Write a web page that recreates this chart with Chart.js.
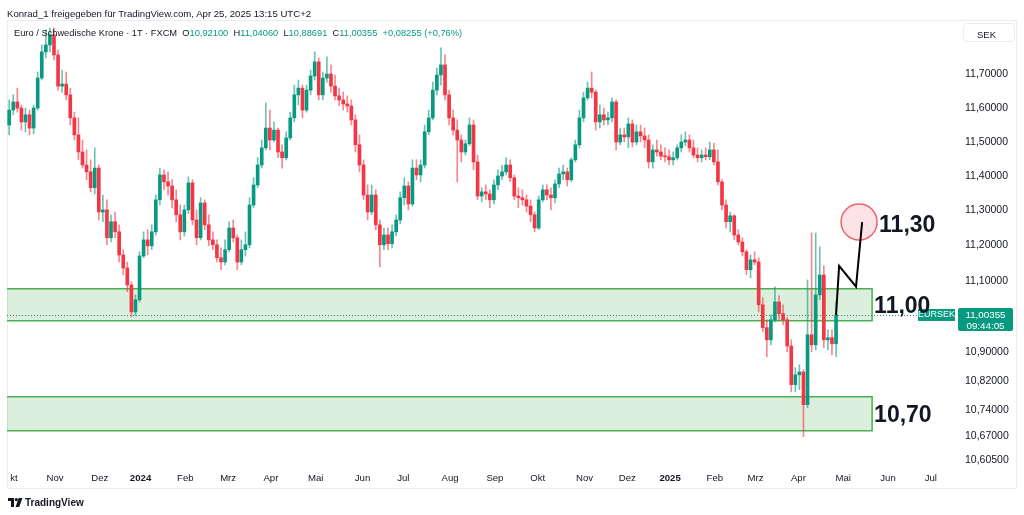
<!DOCTYPE html>
<html><head><meta charset="utf-8">
<script src="https://cdn.jsdelivr.net/npm/chart.js@4.4.1/dist/chart.umd.min.js"></script>
<style>
html,body{margin:0;padding:0;background:#fff;width:1024px;height:515px;overflow:hidden;font-family:"Liberation Sans",Arial,sans-serif;}
canvas{position:absolute;left:0;top:0;}
.t{position:absolute;white-space:nowrap;color:#131722;line-height:1;}
.g{color:#089981;}
#frame{position:absolute;left:7px;top:20px;width:1010px;height:469px;border:1px solid #e9ecf2;box-sizing:border-box;}
#sek{position:absolute;left:963px;top:23px;width:52px;height:19px;border:1px solid #e9ecf2;border-radius:4px;box-sizing:border-box;font-size:9.5px;color:#131722;padding:5px 0 0 13px;}
</style></head><body>
<div id="frame"></div>
<canvas id="c" width="1024" height="515"></canvas>
<div class="t" style="left:7px;top:9px;font-size:9.6px;">Konrad_1 freigegeben für TradingView.com, Apr 25, 2025 13:15 UTC+2</div>
<div class="t" style="left:14px;top:29px;font-size:9.3px;">Euro / Schwedische Krone · 1T · FXCM&nbsp;&nbsp;O<span class="g">10,92100</span>&nbsp;&nbsp;H<span class="g">11,04060</span>&nbsp;&nbsp;L<span class="g">10,88691</span>&nbsp;&nbsp;C<span class="g">11,00355</span>&nbsp;&nbsp;<span class="g">+0,08255 (+0,76%)</span></div>
<div id="sek">SEK</div>
<script>
// ---- data (2-day candles, EUR/SEK) ----
const opens = [11.549,11.593,11.617,11.599,11.558,11.579,11.540,11.599,11.688,11.766,11.787,11.817,11.757,11.664,11.670,11.638,11.570,11.520,11.470,11.432,
11.412,11.366,11.423,11.296,11.302,11.222,11.268,11.239,11.173,11.136,11.088,11.012,11.046,11.170,11.216,11.199,11.239,11.331,11.403,11.383,
11.371,11.331,11.288,11.239,11.302,11.380,11.273,11.222,11.322,11.259,11.216,11.202,11.165,11.153,11.188,11.250,11.222,11.153,11.188,11.202,
11.316,11.374,11.432,11.482,11.540,11.505,11.534,11.470,11.453,11.511,11.570,11.638,11.658,11.593,11.652,11.694,11.736,11.638,11.688,11.700,
11.664,11.635,11.623,11.611,11.605,11.564,11.491,11.432,11.345,11.296,11.345,11.259,11.202,11.230,11.205,11.239,11.273,11.337,11.371,11.319,
11.423,11.403,11.432,11.529,11.570,11.652,11.697,11.727,11.638,11.570,11.534,11.505,11.470,11.494,11.549,11.441,11.342,11.354,11.348,11.331,
11.374,11.400,11.412,11.432,11.395,11.342,11.337,11.331,11.313,11.288,11.250,11.331,11.360,11.345,11.337,11.377,11.406,11.412,11.389,11.447,
11.491,11.570,11.629,11.658,11.646,11.558,11.579,11.564,11.570,11.617,11.499,11.520,11.514,11.552,11.499,11.529,11.517,11.505,11.441,11.476,
11.470,11.458,11.456,11.447,11.453,11.482,11.499,11.505,11.482,11.461,11.453,11.461,11.456,11.476,11.441,11.383,11.316,11.268,11.285,11.230,
11.210,11.182,11.131,11.159,11.153,11.032,10.968,10.934,10.990,11.040,11.007,10.990,10.917,10.810,10.837,10.845,10.755,10.948,10.920,11.060,
11.116,10.934,10.940,10.923];
const highs = [11.623,11.638,11.658,11.608,11.599,11.593,11.608,11.706,11.787,11.832,11.838,11.838,11.772,11.712,11.706,11.658,11.587,11.570,11.505,11.476,
11.447,11.482,11.432,11.345,11.331,11.288,11.296,11.259,11.188,11.153,11.097,11.060,11.182,11.239,11.245,11.259,11.345,11.423,11.418,11.412,
11.389,11.360,11.316,11.316,11.397,11.389,11.302,11.337,11.331,11.288,11.239,11.216,11.193,11.216,11.268,11.273,11.230,11.216,11.239,11.337,
11.395,11.453,11.505,11.614,11.593,11.558,11.540,11.491,11.529,11.587,11.667,11.682,11.667,11.667,11.712,11.766,11.748,11.706,11.751,11.727,
11.697,11.658,11.646,11.635,11.623,11.579,11.520,11.447,11.374,11.374,11.360,11.273,11.250,11.250,11.259,11.288,11.354,11.395,11.383,11.447,
11.447,11.447,11.549,11.593,11.676,11.718,11.778,11.757,11.652,11.593,11.564,11.520,11.505,11.570,11.564,11.461,11.366,11.374,11.360,11.389,
11.418,11.432,11.453,11.447,11.403,11.366,11.360,11.345,11.331,11.296,11.342,11.374,11.374,11.366,11.389,11.423,11.432,11.423,11.453,11.505,
11.593,11.646,11.676,11.706,11.652,11.608,11.599,11.587,11.629,11.623,11.540,11.540,11.570,11.564,11.549,11.549,11.540,11.520,11.491,11.505,
11.491,11.482,11.476,11.470,11.491,11.520,11.529,11.520,11.505,11.482,11.476,11.482,11.499,11.496,11.476,11.389,11.331,11.296,11.288,11.245,
11.222,11.188,11.173,11.182,11.165,11.052,10.990,11.004,11.083,11.057,11.032,10.996,10.934,10.857,10.865,10.851,11.102,11.236,11.236,11.196,
11.142,10.962,10.962,11.0406];
const lows = [11.520,11.579,11.587,11.534,11.529,11.520,11.523,11.593,11.682,11.748,11.766,11.742,11.652,11.646,11.623,11.549,11.505,11.447,11.423,11.389,
11.354,11.348,11.273,11.268,11.202,11.210,11.222,11.153,11.117,11.069,10.998,11.001,11.040,11.165,11.173,11.188,11.230,11.316,11.360,11.345,
11.308,11.268,11.216,11.227,11.291,11.259,11.202,11.216,11.245,11.199,11.188,11.153,11.131,11.145,11.182,11.210,11.131,11.145,11.170,11.193,
11.308,11.366,11.423,11.476,11.476,11.499,11.453,11.423,11.447,11.505,11.558,11.608,11.570,11.587,11.638,11.682,11.623,11.623,11.676,11.646,
11.623,11.605,11.593,11.587,11.549,11.470,11.412,11.331,11.273,11.288,11.245,11.139,11.188,11.188,11.193,11.227,11.262,11.316,11.302,11.313,
11.389,11.383,11.423,11.520,11.564,11.638,11.667,11.623,11.549,11.520,11.383,11.441,11.461,11.488,11.418,11.331,11.325,11.331,11.308,11.319,
11.360,11.389,11.403,11.383,11.331,11.308,11.316,11.296,11.268,11.239,11.245,11.325,11.331,11.302,11.322,11.366,11.389,11.371,11.383,11.441,
11.482,11.558,11.623,11.629,11.534,11.540,11.549,11.549,11.558,11.476,11.491,11.499,11.482,11.485,11.491,11.499,11.482,11.423,11.423,11.458,
11.447,11.441,11.432,11.432,11.447,11.470,11.488,11.470,11.453,11.441,11.441,11.447,11.447,11.432,11.374,11.302,11.250,11.239,11.216,11.202,
11.170,11.117,11.108,11.145,11.012,10.956,10.887,10.920,10.984,10.990,10.976,10.901,10.790,10.790,10.796,10.668,10.747,10.901,10.906,11.046,
10.912,10.906,10.892,10.887];
const closes = [11.593,11.617,11.599,11.558,11.579,11.540,11.599,11.688,11.766,11.787,11.817,11.757,11.664,11.670,11.638,11.570,11.520,11.470,11.432,11.412,
11.366,11.423,11.296,11.302,11.222,11.268,11.239,11.173,11.136,11.088,11.012,11.046,11.170,11.216,11.199,11.239,11.331,11.403,11.383,11.371,
11.331,11.288,11.239,11.302,11.380,11.273,11.222,11.322,11.259,11.216,11.202,11.165,11.153,11.188,11.250,11.222,11.153,11.188,11.202,11.316,
11.374,11.432,11.482,11.540,11.505,11.534,11.470,11.453,11.511,11.570,11.638,11.658,11.593,11.652,11.694,11.736,11.638,11.688,11.700,11.664,
11.635,11.623,11.611,11.605,11.564,11.491,11.432,11.345,11.296,11.345,11.259,11.202,11.230,11.205,11.239,11.273,11.337,11.371,11.319,11.423,
11.403,11.432,11.529,11.570,11.652,11.697,11.727,11.638,11.570,11.534,11.505,11.470,11.494,11.549,11.441,11.342,11.354,11.348,11.331,11.374,
11.400,11.412,11.432,11.395,11.342,11.337,11.331,11.313,11.288,11.250,11.331,11.360,11.345,11.337,11.377,11.406,11.412,11.389,11.447,11.491,
11.570,11.629,11.658,11.646,11.558,11.579,11.564,11.570,11.617,11.499,11.520,11.514,11.552,11.499,11.529,11.517,11.505,11.441,11.476,11.470,
11.458,11.456,11.447,11.453,11.482,11.499,11.505,11.482,11.461,11.453,11.461,11.456,11.476,11.441,11.383,11.316,11.268,11.285,11.230,11.210,
11.182,11.131,11.159,11.153,11.032,10.968,10.934,10.990,11.040,11.007,10.990,10.917,10.810,10.837,10.845,10.755,10.948,10.920,11.060,11.116,
10.934,10.940,10.923,11.00355];
const yTicks = [11.70,11.60,11.50,11.40,11.30,11.20,11.10,10.90,10.82,10.74,10.67,10.605];
const monthNames = ['Jan','Feb','Mrz','Apr','Mai','Jun','Jul','Aug','Sep','Okt','Nov','Dez'];
const zoneBottoms = [10.987, 10.684];
const zoneTops = [11.077, 10.777];
const zoneLabels = ['11,00','10,70'];
const zoneEndBar = 423.2;
const pathBars = [405.5, 407.0, 415.3, 418.3];
const pathPrices = [11.003, 11.142, 11.083, 11.267];
const targetLabel = '11,30';
const lastPrice = 11.00355;
const lastPriceText = '11,00355';
const lastTimeText = '09:44:05';

const UP='#089981', DN='#f23645';
const fmt = v => v.toFixed(5).replace('.', ',');

// trading-day index of first bar of each month (weekdays, no Dec 25 / Jan 1)
function monthStarts(){
  const res=[]; let idx=0, last=-1;
  let t=Date.UTC(2023,9,2); const end=Date.UTC(2025,6,20);
  while(t<=end){
    const d=new Date(t), wd=d.getUTCDay(), m=d.getUTCMonth(), day=d.getUTCDate();
    const hol=(m===11&&day===25)||(m===0&&day===1);
    if(wd!==0&&wd!==6&&!hol){ if(m!==last){res.push({idx,m,y:d.getUTCFullYear()});last=m;} idx++; }
    t+=86400000;
  }
  return res;
}
const months = monthStarts();

const wickData=[], bodyData=[], wickCol=[], bodyCol=[];
closes.forEach((c,k)=>{
  const xv=2*k-0.5, up=c>=opens[k];
  wickData.push({x:xv,y:[lows[k],highs[k]]});
  bodyData.push({x:xv,y:[opens[k],c]});
  wickCol.push(up?'rgba(8,153,129,0.6)':'rgba(242,54,69,0.6)');
  bodyCol.push(up?UP:DN);
});

const annot = {
  id:'annot',
  beforeDatasetsDraw(chart){
    const {ctx, chartArea:a, scales:{x,y}} = chart;
    ctx.save();
    zoneTops.forEach((top,i)=>{
      const x0=a.left, x1=x.getPixelForValue(zoneEndBar);
      const yt=y.getPixelForValue(top), yb=y.getPixelForValue(zoneBottoms[i]);
      ctx.fillStyle='rgba(76,175,80,0.2)';
      ctx.fillRect(x0,yt,x1-x0,yb-yt);
      ctx.strokeStyle='#4caf50'; ctx.lineWidth=1.5;
      ctx.beginPath(); ctx.moveTo(x0,yt); ctx.lineTo(x1,yt); ctx.lineTo(x1,yb); ctx.lineTo(x0,yb); ctx.stroke();
    });
    const py=Math.round(y.getPixelForValue(lastPrice))+0.5;
    ctx.strokeStyle=UP; ctx.lineWidth=1; ctx.setLineDash([1,2]);
    ctx.beginPath(); ctx.moveTo(a.left,py); ctx.lineTo(a.right,py); ctx.stroke();
    ctx.restore();
  },
  afterDatasetsDraw(chart){
    const {ctx, chartArea:a, scales:{x,y}} = chart;
    ctx.save();
    // target circle
    const cx=x.getPixelForValue(pathBars[3]-1.5), cy=y.getPixelForValue(pathPrices[3]);
    ctx.beginPath(); ctx.arc(cx,cy,18,0,Math.PI*2);
    ctx.fillStyle='rgba(242,54,69,0.14)'; ctx.fill();
    ctx.strokeStyle='#f0616d'; ctx.lineWidth=1.5; ctx.stroke();
    // path
    ctx.strokeStyle='#000'; ctx.lineWidth=2; ctx.lineJoin='miter';
    ctx.beginPath();
    pathBars.forEach((b,i)=>{const px=x.getPixelForValue(b), pyy=y.getPixelForValue(pathPrices[i]); i?ctx.lineTo(px,pyy):ctx.moveTo(px,pyy);});
    ctx.stroke();
    // last price tags
    const py=y.getPixelForValue(lastPrice);
    ctx.fillStyle=UP;
    ctx.fillRect(a.right-37, py-6, 37, 12);
    ctx.beginPath();
    const bx=a.right+3, bw=55, by=py-7, bh=23;
    ctx.roundRect ? ctx.roundRect(bx,by,bw,bh,2) : ctx.rect(bx,by,bw,bh);
    ctx.fill();
    ctx.fillStyle='#fff'; ctx.font='9px "Liberation Sans", Arial, sans-serif';
    ctx.textAlign='center'; ctx.textBaseline='middle';
    ctx.fillText('EURSEK', a.right-18.5, py);
    ctx.font='9.8px "Liberation Sans", Arial, sans-serif';
    ctx.fillText(lastPriceText, bx+bw/2, py);
    ctx.fillText(lastTimeText, bx+bw/2, py+11);
    // big labels
    ctx.fillStyle='#131722'; ctx.font='bold 23px "Liberation Sans", Arial, sans-serif';
    ctx.textAlign='left'; ctx.textBaseline='alphabetic';
    ctx.fillText(targetLabel, cx+20, cy+10);
    const xr=x.getPixelForValue(zoneEndBar);
    zoneTops.forEach((top,i)=>{
      const yc=(y.getPixelForValue(top)+y.getPixelForValue(zoneBottoms[i]))/2;
      ctx.fillText(zoneLabels[i], xr+2, yc+8.5);
    });
    // month labels
    ctx.save();
    ctx.beginPath(); ctx.rect(10,a.bottom,a.right-10,50); ctx.clip();
    ctx.textAlign='center'; ctx.textBaseline='middle'; ctx.fillStyle='#131722';
    months.forEach(mo=>{
      const px=x.getPixelForValue(mo.idx);
      if(px>a.right-5) return;
      const isYear=mo.m===0;
      ctx.font=(isYear?'bold ':'')+'9.6px "Liberation Sans", Arial, sans-serif';
      ctx.fillText(isYear?String(mo.y):monthNames[mo.m], px, a.bottom+13);
    });
    ctx.restore();
    // TradingView logo
    ctx.fillStyle='#131722';
    ctx.fillRect(8,498,6,3); ctx.fillRect(11,498,3,9);
    ctx.beginPath(); ctx.arc(16.3,499.6,1.6,0,Math.PI*2); ctx.fill();
    ctx.beginPath(); ctx.moveTo(18.6,498); ctx.lineTo(22.5,498); ctx.lineTo(19.2,507); ctx.lineTo(15.6,507); ctx.closePath(); ctx.fill();
    ctx.font='600 10px "Liberation Sans", Arial, sans-serif'; ctx.textAlign='left'; ctx.textBaseline='middle';
    ctx.fillText('TradingView', 25, 503);
    ctx.restore();
  }
};

new Chart(document.getElementById('c').getContext('2d'), {
  type:'bar',
  data:{datasets:[
    {label:'wick', data:wickData, backgroundColor:wickCol, barThickness:1, grouped:false, order:2, borderWidth:0},
    {label:'body', data:bodyData, backgroundColor:bodyCol, barThickness:3, grouped:false, order:1, minBarLength:1, borderWidth:0}
  ]},
  options:{
    responsive:false, animation:false, devicePixelRatio:1,
    layout:{padding:{left:7, top:21, right:0, bottom:0}},
    plugins:{legend:{display:false}, tooltip:{enabled:false}},
    scales:{
      x:{type:'linear', offset:false, min:-1.571, max:463.9, grid:{display:false, offset:false, drawTicks:false}, border:{display:false}, ticks:{display:false},
         afterFit(s){s.height=50;}},
      y:{type:'logarithmic', position:'right', min:10.591, max:11.859,
         grid:{display:false, drawTicks:false}, border:{display:false},
         ticks:{font:{size:10.5, family:'"Liberation Sans", Arial, sans-serif'}, color:'#131722', padding:10, autoSkip:false, callback:v=>fmt(v)},
         afterBuildTicks(s){s.ticks=yTicks.map(v=>({value:v}));},
         afterFit(s){s.width=69;}}
    }
  },
  plugins:[annot]
});
</script>
</body></html>
